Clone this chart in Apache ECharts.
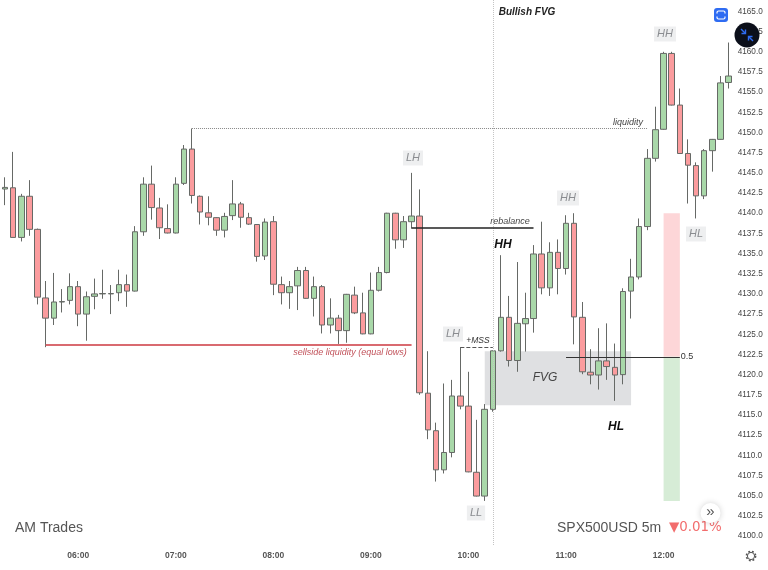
<!DOCTYPE html>
<html>
<head>
<meta charset="utf-8">
<style>html,body{margin:0;padding:0;background:#fff}#chart{width:768px;height:570px}</style>
<script src="https://cdn.jsdelivr.net/npm/echarts@6/dist/echarts.min.js"></script>
</head>
<body>
<div id="chart"></div>
<script>
// 5 minute candles, 05:15 to 12:40
var times = [
  "05:15","05:20","05:25","05:30","05:35","05:40","05:45","05:50","05:55",
  "06:00","06:05","06:10","06:15","06:20","06:25","06:30","06:35","06:40","06:45","06:50","06:55",
  "07:00","07:05","07:10","07:15","07:20","07:25","07:30","07:35","07:40","07:45","07:50","07:55",
  "08:00","08:05","08:10","08:15","08:20","08:25","08:30","08:35","08:40","08:45","08:50","08:55",
  "09:00","09:05","09:10","09:15","09:20","09:25","09:30","09:35","09:40","09:45","09:50","09:55",
  "10:00","10:05","10:10","10:15","10:20","10:25","10:30","10:35","10:40","10:45","10:50","10:55",
  "11:00","11:05","11:10","11:15","11:20","11:25","11:30","11:35","11:40","11:45","11:50","11:55",
  "12:00","12:05","12:10","12:15","12:20","12:25","12:30","12:35","12:40"
];
var opens = [
  4143.0,4143.15,4137.0,4142.1,4138.0,4129.5,4127.0,4129.0,4129.2,4130.9,
  4127.5,4129.7,4130.0,4130.0,4130.15,4131.15,4130.35,4137.7,4143.6,4140.65,
  4138.1,4137.55,4143.7,4147.95,4142.1,4140.05,4139.45,4137.9,4139.7,4141.15,
  4139.45,4138.6,4134.7,4138.95,4131.15,4130.15,4131.0,4132.9,4129.45,4130.9,
  4126.15,4127.0,4125.45,4129.85,4127.65,4125.05,4130.45,4132.65,4140.0,4136.7,
  4138.95,4139.65,4117.7,4113.05,4108.2,4110.35,4117.35,4116.1,4107.9,4104.95,
  4115.7,4122.95,4127.1,4121.75,4126.3,4126.95,4134.95,4130.75,4135.15,4133.15,
  4138.75,4127.1,4120.3,4119.95,4121.7,4120.9,4120.0,4130.35,4132.1,4138.35,
  4146.8,4150.4,4159.8,4153.4,4147.4,4145.9,4142.15,4147.75,4149.15,4156.2
];
var closes = [
  4143.2,4137.0,4142.1,4138.0,4129.6,4127.0,4129.0,4129.05,4130.9,4127.5,
  4129.65,4130.0,4130.05,4130.05,4131.15,4130.35,4137.7,4143.6,4140.7,4138.2,
  4137.55,4143.6,4147.95,4142.2,4140.15,4139.5,4137.9,4139.6,4141.15,4139.5,
  4138.65,4134.65,4138.9,4131.2,4130.15,4130.9,4132.9,4129.45,4130.9,4126.15,
  4127.0,4125.45,4129.95,4127.65,4125.05,4130.45,4132.65,4140.0,4136.7,4138.95,
  4139.65,4117.75,4113.15,4108.2,4110.35,4117.35,4116.1,4107.95,4104.95,4115.7,
  4122.95,4127.1,4121.75,4126.35,4126.95,4134.95,4130.75,4135.15,4133.15,4138.75,
  4127.15,4120.35,4119.95,4121.7,4121.0,4119.95,4130.3,4132.1,4138.35,4146.8,
  4150.35,4159.8,4153.4,4147.4,4145.95,4142.15,4147.75,4149.15,4156.15,4157.0
];
var lows = [
  4141.0,4137.0,4136.5,4137.2,4128.7,4123.4,4126.15,4127.7,4128.7,4126.0,
  4124.2,4128.1,4129.4,4127.5,4129.1,4128.4,4130.3,4137.2,4139.2,4136.8,
  4137.5,4137.5,4143.5,4141.2,4138.6,4138.5,4137.2,4137.0,4139.15,4138.2,
  4138.55,4134.0,4134.2,4129.85,4128.7,4128.15,4128.0,4129.4,4127.2,4125.1,
  4125.1,4123.8,4123.95,4127.5,4125.0,4125.0,4130.3,4132.55,4135.6,4135.7,
  4138.1,4117.5,4112.0,4106.75,4107.75,4109.75,4115.7,4107.9,4104.9,4104.35,
  4115.4,4122.85,4121.0,4120.35,4122.85,4125.2,4129.95,4129.75,4129.95,4132.4,
  4123.75,4120.05,4118.8,4118.15,4119.35,4116.75,4118.8,4126.95,4131.8,4137.9,
  4146.4,4150.35,4153.35,4147.35,4141.2,4139.35,4141.75,4145.15,4149.1,4155.45
];
var highs = [
  4144.45,4147.6,4142.4,4144.1,4138.1,4131.6,4132.6,4130.6,4132.55,4131.6,
  4130.3,4131.9,4133.0,4131.1,4133.0,4132.4,4138.4,4144.45,4145.9,4141.9,
  4141.1,4144.45,4148.45,4150.5,4142.2,4142.1,4139.5,4140.05,4144.1,4141.4,
  4140.05,4138.65,4139.35,4139.65,4132.15,4131.6,4133.35,4133.35,4132.15,4131.1,
  4129.45,4127.4,4130.0,4130.9,4130.15,4132.65,4133.35,4140.05,4140.05,4139.65,
  4145.0,4142.95,4122.9,4114.05,4118.9,4119.35,4123.4,4120.35,4114.4,4116.35,
  4123.0,4134.8,4129.75,4133.95,4130.15,4136.05,4138.95,4136.4,4136.75,4139.75,
  4140.0,4129.0,4123.15,4125.75,4126.35,4123.85,4130.7,4134.35,4139.35,4147.95,
  4153.2,4160.0,4160.0,4155.45,4149.15,4146.3,4147.95,4149.2,4157.0,4161.15
];
var candles = times.map(function (t, i) {
  return [opens[i], closes[i], lows[i], highs[i]];
});

// levels drawn on the chart
var liquidityLevel = 4150.5;
var rebalanceLevel = 4138.15;
var sellsideLevel = 4123.65;
var mssLevel = 4123.4;
var midLevel = 4122.2;
var fvgTop = 4122.9, fvgBottom = 4116.2;
var targetTop = 4140.0, targetBottom = 4104.35;

function hLine(from, to, price, color, width, type) {
  return [
    { xAxis: from, yAxis: price, lineStyle: { color: color, width: width, type: type } },
    { xAxis: to, yAxis: price }
  ];
}

function note(x, y, text, extra) {
  var style = {
    x: x, y: y, text: text, align: "center", verticalAlign: "middle",
    fontFamily: "Liberation Sans", fontStyle: "italic", fontSize: 9, fill: "#444"
  };
  for (var k in extra) style[k] = extra[k];
  return { type: "text", z: 50, style: style };
}

function tag(x, y, text) {
  return note(x, y, text, {
    fontSize: 11, fill: "#8a8c90", backgroundColor: "#eeeff0", padding: [2, 3]
  });
}

var chart = echarts.init(document.getElementById("chart"));
chart.setOption({
  animation: false,
  backgroundColor: "#fff",
  grid: { left: 1, top: 0, width: 731.7, height: 556.2 },
  xAxis: {
    type: "category",
    data: times,
    axisLine: { show: false },
    axisTick: { show: false },
    splitLine: { show: false },
    axisLabel: {
      margin: -5,
      fontFamily: "Liberation Sans",
      fontSize: 8.5,
      fontWeight: "bold",
      color: "#555",
      interval: function (index, value) {
        return value.slice(3) === "00";
      }
    }
  },
  yAxis: {
    type: "value",
    position: "right",
    min: 4097.5,
    max: 4166.42, // top of the picture, the labels stop at 4165.0
    interval: 2.5,
    axisLine: { show: false },
    axisTick: { show: false },
    splitLine: { show: false },
    axisLabel: {
      margin: 5,
      showMinLabel: false,
      showMaxLabel: false,
      fontFamily: "Liberation Sans",
      fontSize: 8.2,
      color: "#444",
      formatter: function (v) {
        return v.toFixed(1);
      }
    }
  },
  series: [
    {
      type: "candlestick",
      data: candles,
      barWidth: 6,
      silent: true,
      itemStyle: {
        color: "#a9d8a9",
        color0: "#fb9c9e",
        borderColor: "#666966",
        borderColor0: "#666966",
        borderWidth: 1
      },
      markArea: {
        silent: true,
        data: [
          [
            { xAxis: "10:10", yAxis: fvgTop, itemStyle: { color: "#dfe0e2" } },
            { xAxis: "11:40", yAxis: fvgBottom }
          ],
          [
            { xAxis: "12:00", yAxis: targetTop, itemStyle: { color: "#fdd6d8" } },
            { xAxis: "12:10", yAxis: midLevel }
          ],
          [
            { xAxis: "12:00", yAxis: midLevel, itemStyle: { color: "#d6ecd6" } },
            { xAxis: "12:10", yAxis: targetBottom }
          ]
        ]
      },
      markLine: {
        silent: true,
        symbol: "none",
        label: { show: false },
        data: [
          [
            { xAxis: "10:15", yAxis: 4166.42, lineStyle: { color: "#c4c4c4", width: 1, type: "dotted" } },
            { xAxis: "10:15", yAxis: 4098.8 }
          ],
          hLine("07:10", "11:50", liquidityLevel, "#888", 1, "dotted"),
          hLine("09:25", "10:40", rebalanceLevel, "#222", 1.5, "solid"),
          hLine("05:40", "09:25", sellsideLevel, "#d96a70", 2, "solid"),
          hLine("09:55", "10:15", mssLevel, "#555", 1, "dashed"),
          hLine("11:00", "12:10", midLevel, "#333", 1, "solid")
        ]
      }
    }
  ],
  graphic: [
    note(527, 12, "Bullish FVG", { fontWeight: "bold", fontSize: 10, fill: "#222" }),
    tag(665, 34, "HH"),
    tag(413, 158, "LH"),
    tag(568, 198, "HH"),
    tag(696, 234, "HL"),
    tag(453, 334, "LH"),
    tag(476, 513, "LL"),
    note(503, 245, "HH", { fontWeight: "bold", fontSize: 12, fill: "#111" }),
    note(616, 427, "HL", { fontWeight: "bold", fontSize: 12, fill: "#111" }),
    note(545, 378, "FVG", { fontSize: 12, fill: "#444" }),
    note(510, 221, "rebalance"),
    note(628, 122, "liquidity"),
    note(478, 341, "+MSS", { fontSize: 8.5, fill: "#333" }),
    note(350, 352, "sellside liquidity (equal lows)", { fill: "#c2545c" }),
    note(687, 357, "0.5", { fontStyle: "normal", fontSize: 9, fill: "#333" }),
    {
      type: "text", z: 50,
      style: { x: 15, y: 528, text: "AM Trades", verticalAlign: "middle", fontFamily: "Liberation Sans", fontSize: 14, fill: "#555" }
    },
    {
      type: "text", z: 50,
      style: { x: 557, y: 528, text: "SPX500USD 5m", verticalAlign: "middle", fontFamily: "Liberation Sans", fontSize: 14, fill: "#555" }
    },
    {
      type: "text", z: 50,
      style: { x: 669, y: 528, text: "▼0.01%", verticalAlign: "middle", fontFamily: "DejaVu Sans, Liberation Sans", fontSize: 13.4, fill: "#f26d6d" }
    },
    // fullscreen button
    { type: "rect", z: 60, shape: { x: 714, y: 8, width: 14, height: 14, r: 3 }, style: { fill: "#2f6cf2" } },
    { type: "rect", z: 61, shape: { x: 717, y: 11, width: 8, height: 8, r: 1.5 }, style: { fill: "none", stroke: "#fff", lineWidth: 1.2 } },
    { type: "rect", z: 62, shape: { x: 715, y: 13.5, width: 12, height: 3 }, style: { fill: "#2f6cf2" } },
    // dark round button over the 4162.5 label
    { type: "circle", z: 60, shape: { cx: 747, cy: 35, r: 12.5 }, style: { fill: "#0b0f1a" } },
    { type: "polyline", z: 61, shape: { points: [[741, 29], [745.5, 33.5]] }, style: { stroke: "#2f6cf2", lineWidth: 1.4, fill: "none" } },
    { type: "polyline", z: 61, shape: { points: [[745.5, 29.5], [745.5, 33.5], [741.5, 33.5]] }, style: { stroke: "#2f6cf2", lineWidth: 1.4, fill: "none" } },
    { type: "polyline", z: 61, shape: { points: [[753, 41], [748.5, 36.5]] }, style: { stroke: "#2f6cf2", lineWidth: 1.4, fill: "none" } },
    { type: "polyline", z: 61, shape: { points: [[748.5, 40.5], [748.5, 36.5], [752.5, 36.5]] }, style: { stroke: "#2f6cf2", lineWidth: 1.4, fill: "none" } },
    // scroll to latest button
    { type: "circle", z: 60, shape: { cx: 710.5, cy: 513, r: 10 }, style: { fill: "#fff", shadowBlur: 6, shadowColor: "rgba(0,0,0,0.18)" } },
    { type: "text", z: 61, style: { x: 710.5, y: 512, text: "»", align: "center", verticalAlign: "middle", fontFamily: "Liberation Sans", fontSize: 15, fill: "#555" } },
    // settings gear
    { type: "circle", z: 60, shape: { cx: 751, cy: 556, r: 4.5 }, style: { fill: "none", stroke: "#555", lineWidth: 1.8, lineDash: [1.8, 1.8] } },
    { type: "circle", z: 61, shape: { cx: 751, cy: 556, r: 3.6 }, style: { fill: "#fff", stroke: "#555", lineWidth: 1 } }
  ]
});
</script>
</body>
</html>
